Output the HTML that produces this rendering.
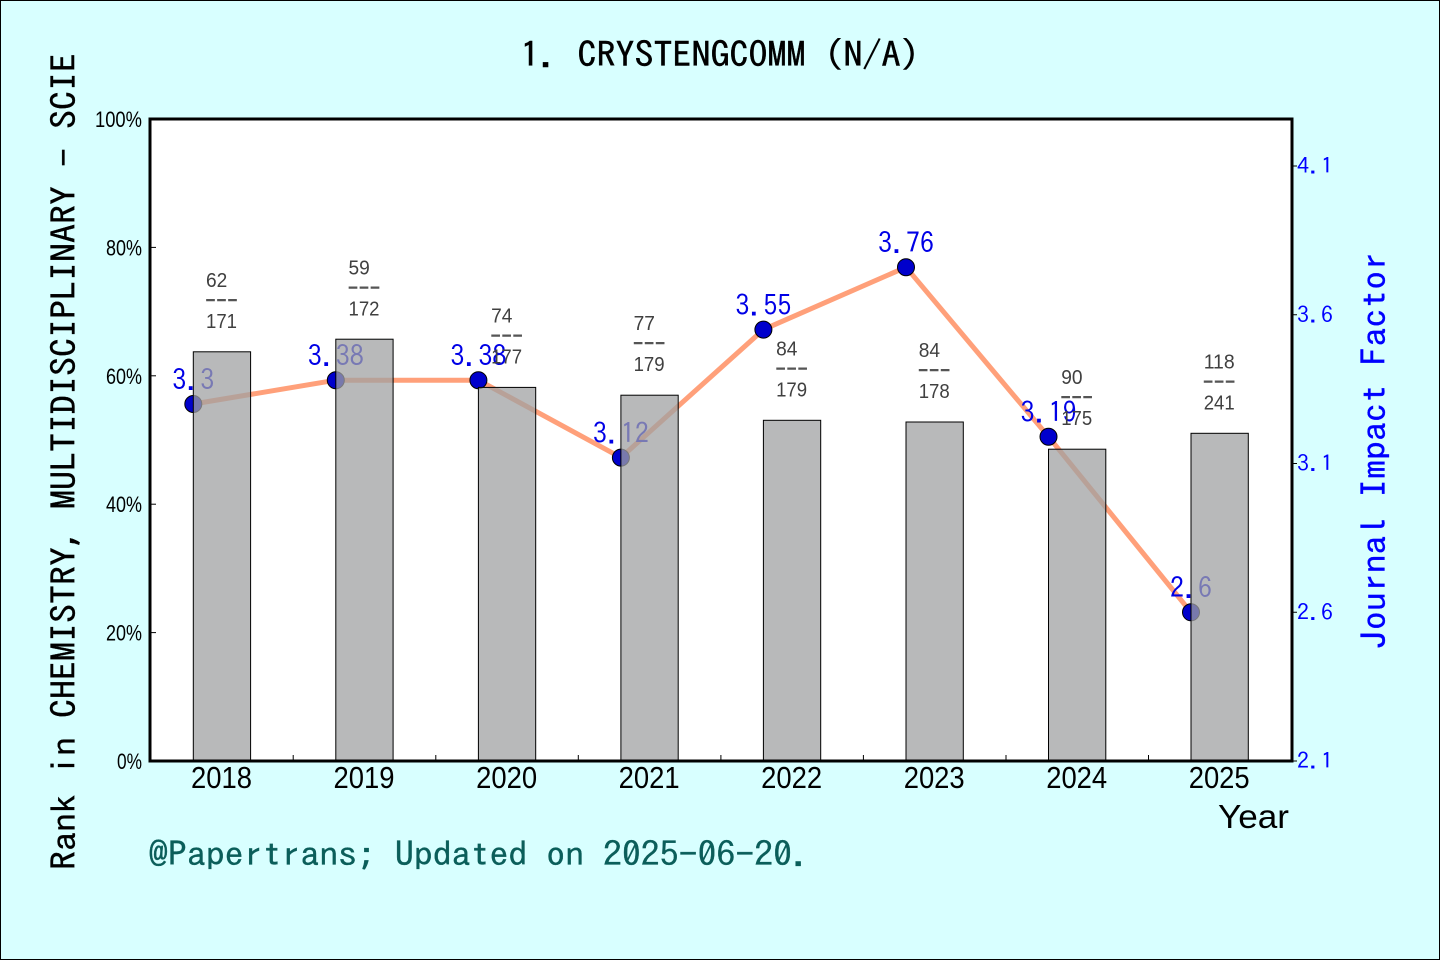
<!DOCTYPE html>
<html>
<head>
<meta charset="utf-8">
<style>
  html, body { margin: 0; padding: 0; background: #d8ffff; }
  svg { display: block; }
  text { font-family: "IPAGothic", "Liberation Sans", "Noto Sans CJK SC", sans-serif; }
  .ls { font-family: "Liberation Sans", "DejaVu Sans", sans-serif; }
</style>
</head>
<body>
<svg width="1440" height="960" viewBox="0 0 1440 960" xmlns="http://www.w3.org/2000/svg">
  <!-- background + border -->
  <rect x="0" y="0" width="1440" height="960" fill="#d8ffff"/>
  <rect x="0.5" y="0.5" width="1439" height="959" fill="none" stroke="#000" stroke-width="1"/>

  <!-- title -->
  <text x="720" y="67" font-size="35" text-anchor="middle" textLength="399" lengthAdjust="spacingAndGlyphs" fill="#000" stroke="#000" stroke-width="0.4">1. CRYSTENGCOMM (N/A)</text>

  <!-- plot area -->
  <rect x="150" y="119" width="1142" height="642" fill="#ffffff"/>

  <!-- JIF line -->
  <polyline fill="none" stroke="#ffa07a" stroke-width="5" stroke-linejoin="round"
    points="193.3,404 335.8,380.2 478.4,380.2 620.9,457.6 763.4,329.6 906,267.2 1048.5,436.7 1191,612.3"/>

  <!-- markers -->
  <g fill="#0000cc" stroke="#000" stroke-width="1">
    <circle cx="193.3" cy="404" r="8.5"/>
    <circle cx="335.8" cy="380.2" r="8.5"/>
    <circle cx="478.4" cy="380.2" r="8.5"/>
    <circle cx="620.9" cy="457.6" r="8.5"/>
    <circle cx="763.4" cy="329.6" r="8.5"/>
    <circle cx="906" cy="267.2" r="8.5"/>
    <circle cx="1048.5" cy="436.7" r="8.5"/>
    <circle cx="1191" cy="612.3" r="8.5"/>
  </g>

  <!-- JIF labels -->
  <g fill="#0000e6" font-size="28" text-anchor="middle">
    <text x="193.3" y="390" textLength="42" lengthAdjust="spacingAndGlyphs">3.3</text>
    <text x="335.8" y="366" textLength="56" lengthAdjust="spacingAndGlyphs">3.38</text>
    <text x="478.4" y="366" textLength="56" lengthAdjust="spacingAndGlyphs">3.38</text>
    <text x="620.9" y="443.5" textLength="56" lengthAdjust="spacingAndGlyphs">3.12</text>
    <text x="763.4" y="315.5" textLength="56" lengthAdjust="spacingAndGlyphs">3.55</text>
    <text x="906" y="253" textLength="56" lengthAdjust="spacingAndGlyphs">3.76</text>
    <text x="1048.5" y="422.5" textLength="56" lengthAdjust="spacingAndGlyphs">3.19</text>
    <text x="1191" y="598" textLength="42" lengthAdjust="spacingAndGlyphs">2.6</text>
  </g>

  <!-- bars (semi-transparent, on top of line) -->
  <g fill="#a0a1a3" fill-opacity="0.75" stroke="#000" stroke-width="1">
    <rect x="193.3" y="351.8" width="57.3" height="409.2"/>
    <rect x="335.8" y="339.2" width="57.3" height="421.8"/>
    <rect x="478.4" y="387.4" width="57.3" height="373.6"/>
    <rect x="620.9" y="395.2" width="57.3" height="365.8"/>
    <rect x="763.4" y="420.3" width="57.3" height="340.7"/>
    <rect x="906" y="422" width="57.3" height="339"/>
    <rect x="1048.5" y="449.2" width="57.3" height="311.8"/>
    <rect x="1191" y="433.3" width="57.3" height="327.7"/>
  </g>

  <!-- rank labels -->
  <g fill="#404040" font-size="20">
    <text class="ls" x="206" y="287" textLength="21.3" lengthAdjust="spacingAndGlyphs">62</text>
    <text class="ls" x="205" y="306" font-size="22" textLength="33" lengthAdjust="spacingAndGlyphs" fill="#555" stroke="#555" stroke-width="0.4">---</text>
    <text class="ls" x="206" y="328" textLength="31" lengthAdjust="spacingAndGlyphs">171</text>

    <text class="ls" x="348.5" y="274.5" textLength="21.3" lengthAdjust="spacingAndGlyphs">59</text>
    <text class="ls" x="347.5" y="293.5" font-size="22" textLength="33" lengthAdjust="spacingAndGlyphs" fill="#555" stroke="#555" stroke-width="0.4">---</text>
    <text class="ls" x="348.5" y="315.5" textLength="31" lengthAdjust="spacingAndGlyphs">172</text>

    <text class="ls" x="491.1" y="322.5" textLength="21.3" lengthAdjust="spacingAndGlyphs">74</text>
    <text class="ls" x="490.1" y="341.5" font-size="22" textLength="33" lengthAdjust="spacingAndGlyphs" fill="#555" stroke="#555" stroke-width="0.4">---</text>
    <text class="ls" x="491.1" y="363.5" textLength="31" lengthAdjust="spacingAndGlyphs">177</text>

    <text class="ls" x="633.6" y="330" textLength="21.3" lengthAdjust="spacingAndGlyphs">77</text>
    <text class="ls" x="632.6" y="349" font-size="22" textLength="33" lengthAdjust="spacingAndGlyphs" fill="#555" stroke="#555" stroke-width="0.4">---</text>
    <text class="ls" x="633.6" y="371" textLength="31" lengthAdjust="spacingAndGlyphs">179</text>

    <text class="ls" x="776.1" y="355.5" textLength="21.3" lengthAdjust="spacingAndGlyphs">84</text>
    <text class="ls" x="775.1" y="374.5" font-size="22" textLength="33" lengthAdjust="spacingAndGlyphs" fill="#555" stroke="#555" stroke-width="0.4">---</text>
    <text class="ls" x="776.1" y="396.5" textLength="31" lengthAdjust="spacingAndGlyphs">179</text>

    <text class="ls" x="918.7" y="357" textLength="21.3" lengthAdjust="spacingAndGlyphs">84</text>
    <text class="ls" x="917.7" y="376" font-size="22" textLength="33" lengthAdjust="spacingAndGlyphs" fill="#555" stroke="#555" stroke-width="0.4">---</text>
    <text class="ls" x="918.7" y="398" textLength="31" lengthAdjust="spacingAndGlyphs">178</text>

    <text class="ls" x="1061.2" y="384" textLength="21.3" lengthAdjust="spacingAndGlyphs">90</text>
    <text class="ls" x="1060.2" y="403" font-size="22" textLength="33" lengthAdjust="spacingAndGlyphs" fill="#555" stroke="#555" stroke-width="0.4">---</text>
    <text class="ls" x="1061.2" y="425" textLength="31" lengthAdjust="spacingAndGlyphs">175</text>

    <text class="ls" x="1203.7" y="368.5" textLength="31" lengthAdjust="spacingAndGlyphs">118</text>
    <text class="ls" x="1202.7" y="387.5" font-size="22" textLength="33" lengthAdjust="spacingAndGlyphs" fill="#555" stroke="#555" stroke-width="0.4">---</text>
    <text class="ls" x="1203.7" y="409.5" textLength="31" lengthAdjust="spacingAndGlyphs">241</text>
  </g>

  <!-- axes frame -->
  <rect x="150" y="119" width="1142" height="642" fill="none" stroke="#000" stroke-width="3"/>

  <!-- ticks -->
  <g stroke="#000" stroke-width="1">
    <line x1="150" y1="119" x2="156" y2="119"/>
    <line x1="150" y1="247.4" x2="156" y2="247.4"/>
    <line x1="150" y1="375.8" x2="156" y2="375.8"/>
    <line x1="150" y1="504.2" x2="156" y2="504.2"/>
    <line x1="150" y1="632.6" x2="156" y2="632.6"/>
    <line x1="150" y1="761" x2="156" y2="761"/>
    <line x1="1292" y1="761" x2="1297" y2="761"/>
    <line x1="1292" y1="612.25" x2="1297" y2="612.25"/>
    <line x1="1292" y1="463.5" x2="1297" y2="463.5"/>
    <line x1="1292" y1="314.75" x2="1297" y2="314.75"/>
    <line x1="1292" y1="166" x2="1297" y2="166"/>
    <line x1="293.2" y1="761" x2="293.2" y2="755"/>
    <line x1="435.8" y1="761" x2="435.8" y2="755"/>
    <line x1="578.3" y1="761" x2="578.3" y2="755"/>
    <line x1="720.9" y1="761" x2="720.9" y2="755"/>
    <line x1="863.4" y1="761" x2="863.4" y2="755"/>
    <line x1="1006" y1="761" x2="1006" y2="755"/>
    <line x1="1148.5" y1="761" x2="1148.5" y2="755"/>
  </g>

  <!-- left tick labels -->
  <g fill="#000" font-size="22" text-anchor="end">
    <text class="ls" x="142" y="127" textLength="47" lengthAdjust="spacingAndGlyphs">100%</text>
    <text class="ls" x="142" y="255.4" textLength="36" lengthAdjust="spacingAndGlyphs">80%</text>
    <text class="ls" x="142" y="383.8" textLength="36" lengthAdjust="spacingAndGlyphs">60%</text>
    <text class="ls" x="142" y="512.2" textLength="36" lengthAdjust="spacingAndGlyphs">40%</text>
    <text class="ls" x="142" y="640.6" textLength="36" lengthAdjust="spacingAndGlyphs">20%</text>
    <text class="ls" x="142" y="769" textLength="25" lengthAdjust="spacingAndGlyphs">0%</text>
  </g>

  <!-- right tick labels -->
  <g fill="#0000ff" font-size="22">
    <text x="1297" y="768.5" textLength="36" lengthAdjust="spacingAndGlyphs">2.1</text>
    <text x="1297" y="619.75" textLength="36" lengthAdjust="spacingAndGlyphs">2.6</text>
    <text x="1297" y="471" textLength="36" lengthAdjust="spacingAndGlyphs">3.1</text>
    <text x="1297" y="322.25" textLength="36" lengthAdjust="spacingAndGlyphs">3.6</text>
    <text x="1297" y="173.5" textLength="36" lengthAdjust="spacingAndGlyphs">4.1</text>
  </g>

  <!-- year labels -->
  <g fill="#000" font-size="31" text-anchor="middle">
    <text class="ls" x="221.5" y="788" textLength="61" lengthAdjust="spacingAndGlyphs">2018</text>
    <text class="ls" x="364" y="788" textLength="61" lengthAdjust="spacingAndGlyphs">2019</text>
    <text class="ls" x="506.6" y="788" textLength="61" lengthAdjust="spacingAndGlyphs">2020</text>
    <text class="ls" x="649.1" y="788" textLength="61" lengthAdjust="spacingAndGlyphs">2021</text>
    <text class="ls" x="791.6" y="788" textLength="61" lengthAdjust="spacingAndGlyphs">2022</text>
    <text class="ls" x="934.2" y="788" textLength="61" lengthAdjust="spacingAndGlyphs">2023</text>
    <text class="ls" x="1076.7" y="788" textLength="61" lengthAdjust="spacingAndGlyphs">2024</text>
    <text class="ls" x="1219.2" y="788" textLength="61" lengthAdjust="spacingAndGlyphs">2025</text>
  </g>

  <!-- x axis title -->
  <text class="ls" x="1289" y="828" font-size="33" text-anchor="end" textLength="71" lengthAdjust="spacingAndGlyphs" fill="#000">Year</text>

  <!-- left axis title -->
  <text transform="translate(76,461.5) rotate(-90)" font-size="34" text-anchor="middle" textLength="817" lengthAdjust="spacingAndGlyphs" fill="#000" stroke="#000" stroke-width="0.3">Rank in CHEMISTRY, MULTIDISCIPLINARY - SCIE</text>

  <!-- right axis title -->
  <text transform="translate(1386,450.5) rotate(-90)" font-size="34" text-anchor="middle" textLength="397" lengthAdjust="spacingAndGlyphs" fill="#0000ff" stroke="#0000ff" stroke-width="0.3">Journal Impact Factor</text>

  <!-- footer -->
  <text x="149" y="866" font-size="34" textLength="662" lengthAdjust="spacingAndGlyphs" fill="#0b5e5a" stroke="#0b5e5a" stroke-width="0.3">@Papertrans; Updated on 2025-06-20.</text>
</svg>
</body>
</html>
